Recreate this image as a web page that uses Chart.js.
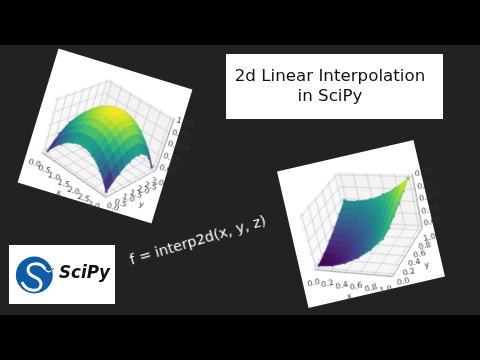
<!DOCTYPE html>
<html><head><meta charset="utf-8">
<script src="https://cdn.jsdelivr.net/npm/chart.js@4"></script>
<style>
html,body{margin:0;padding:0;background:#000;width:480px;height:360px;overflow:hidden;font-family:"DejaVu Sans",sans-serif}
#bg{position:absolute;left:0;top:45px;width:480px;height:270px;background:#222}
.plot{position:absolute;width:140px;height:140px;background:#fff;filter:blur(.35px)}
.plot canvas{display:block;position:absolute;left:-30px;top:-30px}
#title{position:absolute;left:226px;top:54px;width:217px;height:65px;background:#fff;color:#111;font-size:16.7px;line-height:20px;text-align:center;padding-top:11px;padding-right:9px;box-sizing:border-box;white-space:nowrap;filter:blur(.3px)}
#formula{position:absolute;left:130px;top:252px;color:#fff;font-size:14.4px;white-space:nowrap;transform:rotate(-16.5deg);transform-origin:0 50%}
#logo{position:absolute;left:9px;top:245px;width:106px;height:59px;background:#fff;filter:blur(.3px)}
#logoText{position:absolute;left:50px;top:17px;font:italic bold 16.8px "DejaVu Sans",sans-serif;color:#111}
</style></head><body>
<div id="bg"></div>
<div class="plot" style="left:35px;top:65.5px;transform:rotate(17deg)"><canvas id="left" width="200" height="200"></canvas></div>
<div class="plot" style="left:291px;top:154px;transform:rotate(-13deg)"><canvas id="right" width="200" height="200"></canvas></div>
<div id="title">2d Linear Interpolation<br>in SciPy</div>
<div id="formula">f = interp2d(x, y, z)</div>
<div id="logo">
<svg width="106" height="59" style="position:absolute;left:0;top:0"><circle cx="25.3" cy="30" r="18.5" fill="#0f5ca6"/><path d="M36 24 C32 17 19 17 19 25 C19 33 33 31 32 40 C31 48 17 47 13 37" fill="none" stroke="#fff" stroke-width="3"/><path d="M36 24 Q38.5 29 43 25" fill="none" stroke="#fff" stroke-width="1.6"/><path d="M41 26 Q43 25.5 45 23" fill="none" stroke="#0f5ca6" stroke-width="1"/></svg>
<div id="logoText">SciPy</div></div>
<script>
const leftXs=[0,.25,.5,.75,1,1.25,1.5,1.75,2,2.25,2.5,2.75,3];
const leftYs=[0,.25,.5,.75,1,1.25,1.5,1.75,2,2.25,2.5,2.75,3];
const leftZ=[
[0,.153,.278,.375,.444,.486,.5,.486,.444,.375,.278,.153,0],
[.153,.306,.431,.528,.597,.639,.653,.639,.597,.528,.431,.306,.153],
[.278,.431,.556,.653,.722,.764,.778,.764,.722,.653,.556,.431,.278],
[.375,.528,.653,.75,.819,.861,.875,.861,.819,.75,.653,.528,.375],
[.444,.597,.722,.819,.888,.93,.944,.93,.888,.819,.722,.597,.444],
[.486,.639,.764,.861,.93,.972,.986,.972,.93,.861,.764,.639,.486],
[.5,.653,.778,.875,.944,.986,1,.986,.944,.875,.778,.653,.5],
[.486,.639,.764,.861,.93,.972,.986,.972,.93,.861,.764,.639,.486],
[.444,.597,.722,.819,.888,.93,.944,.93,.888,.819,.722,.597,.444],
[.375,.528,.653,.75,.819,.861,.875,.861,.819,.75,.653,.528,.375],
[.278,.431,.556,.653,.722,.764,.778,.764,.722,.653,.556,.431,.278],
[.153,.306,.431,.528,.597,.639,.653,.639,.597,.528,.431,.306,.153],
[0,.153,.278,.375,.444,.486,.5,.486,.444,.375,.278,.153,0]];
const leftXTicks=["0.0","0.5","1.0","1.5","2.0","2.5","3.0"];
const leftYTicks=["0.0","0.5","1.0","1.5","2.0","2.5","3.0"];
const leftZTicks=["0.00","0.25","0.50","0.75","1.00"];
const rightXs=[0,.1,.2,.3,.4,.5,.6,.7,.8,.9,1];
const rightYs=[0,.1,.2,.3,.4,.5,.6,.7,.8,.9,1];
const rightZ=[
[0,.001,.005,.012,.021,.033,.047,.064,.083,.105,.130],
[.005,.006,.010,.016,.025,.037,.050,.067,.086,.107,.132],
[.012,.012,.016,.022,.031,.042,.055,.072,.090,.112,.136],
[.021,.021,.024,.030,.038,.050,.063,.079,.097,.118,.142],
[.030,.030,.033,.038,.046,.057,.070,.086,.103,.124,.148],
[.041,.040,.043,.049,.056,.066,.079,.094,.112,.133,.156],
[.051,.050,.052,.058,.065,.075,.087,.102,.120,.140,.163],
[.063,.061,.064,.069,.076,.086,.097,.112,.129,.149,.172],
[.075,.072,.075,.080,.086,.096,.108,.122,.139,.160,.181],
[.087,.084,.087,.090,.097,.107,.118,.132,.149,.168,.190],
[.100,.097,.099,.103,.109,.118,.130,.143,.159,.178,.200]];
const rightXTicks=["0.0","0.2","0.4","0.6","0.8","1.0"];
const rightYTicks=["0.0","0.2","0.4","0.6","0.8","1.0"];
const rightZTicks=["0.00","0.05","0.10","0.15","0.20"];
const viridis=[[68,1,84],[72,40,120],[62,74,137],[49,104,142],[38,130,142],[31,158,137],[53,183,121],[109,205,89],[180,222,44],[253,231,37]];

function cmap(t){t=Math.max(0,Math.min(1,t))*(viridis.length-1);const i=Math.min(viridis.length-2,Math.floor(t)),f=t-i;
 const c=viridis[i].map((v,k)=>Math.round(v+(viridis[i+1][k]-v)*f));return `rgb(${c[0]},${c[1]},${c[2]})`;}
const az=-60*Math.PI/180,el=30*Math.PI/180,D=10,SX=1.143,SZ=.857,PX=78,CW=200,OX=102.6,OY=98.5;
function makePlot(id,xs,ys,Z,xT,yT,zT,dotStep){
 const x0=xs[0],x1=xs[xs.length-1],y0=ys[0],y1=ys[ys.length-1],z1=Math.max(...Z.flat()),z0=0;
 const pad=.05,xa=x0-(x1-x0)*pad,xb=x1+(x1-x0)*pad,ya=y0-(y1-y0)*pad,yb=y1+(y1-y0)*pad,za=z0-(z1-z0)*pad,zb=z1+(z1-z0)*pad;
 const P=(x,y,z)=>{const X=((x-xa)/(xb-xa)-.5)*SX,Y=((y-ya)/(yb-ya)-.5)*SX,W=((z-za)/(zb-za)-.5)*SZ;
  const sx=-Math.sin(az)*X+Math.cos(az)*Y,
        sy=-Math.sin(el)*Math.cos(az)*X-Math.sin(el)*Math.sin(az)*Y+Math.cos(el)*W,
        d=Math.cos(el)*Math.cos(az)*X+Math.cos(el)*Math.sin(az)*Y+Math.sin(el)*W,f=D/(D-d);
  return {x:sx*f,y:sy*f,d};};
 const paint=[];
 const poly=(pts,fill,w)=>paint.push({data:[...pts,pts[0]],showLine:true,fill:'shape',backgroundColor:fill,borderColor:fill,borderWidth:w,pointRadius:0,tension:0});
 const line=(pts,col,w)=>paint.push({data:pts,showLine:true,fill:false,borderColor:col,borderWidth:w,pointRadius:0,tension:0});
 poly([P(xa,ya,za),P(xb,ya,za),P(xb,yb,za),P(xa,yb,za)],'#f6f6f6',.4);
 poly([P(xa,ya,za),P(xa,yb,za),P(xa,yb,zb),P(xa,ya,zb)],'#f9f9f9',.4);
 poly([P(xa,yb,za),P(xb,yb,za),P(xb,yb,zb),P(xa,yb,zb)],'#f3f3f3',.4);
 const G='#bdbdbd',nx=xT.map(Number),ny=yT.map(Number),nz=zT.map(Number);
 nx.forEach(v=>{line([P(v,ya,za),P(v,yb,za),P(v,yb,zb)],G,.6);});
 ny.forEach(v=>{line([P(xb,v,za),P(xa,v,za),P(xa,v,zb)],G,.6);});
 nz.forEach(v=>{line([P(xa,ya,v),P(xa,yb,v),P(xb,yb,v)],G,.6);});
 line([P(xa,ya,za),P(xb,ya,za)],'#555',.6);
 line([P(xb,ya,za),P(xb,yb,za)],'#555',.6);
 line([P(xb,yb,za),P(xb,yb,zb)],'#555',.6);
 const dots=[];xs.forEach((x,i)=>ys.forEach((y,j)=>{if((i%dotStep==0&&j%dotStep==0)&&(i==0||j==0||i==xs.length-1||j==ys.length-1))dots.push(P(x,y,Z[j][i]));}));
 paint.push({data:dots,showLine:false,pointRadius:1.6,pointBorderWidth:0,pointBackgroundColor:'#4a86b4'});
 const quads=[];
 for(let j=0;j<ys.length-1;j++)for(let i=0;i<xs.length-1;i++){
  const a=[P(xs[i],ys[j],Z[j][i]),P(xs[i+1],ys[j],Z[j][i+1]),P(xs[i+1],ys[j+1],Z[j+1][i+1]),P(xs[i],ys[j+1],Z[j+1][i])];
  const m=(Z[j][i]+Z[j][i+1]+Z[j+1][i+1]+Z[j+1][i])/4;
  quads.push({a,m,d:(a[0].d+a[1].d+a[2].d+a[3].d)/4});}
 quads.sort((p,q)=>p.d-q.d).forEach(q=>poly(q.a,cmap((q.m-z0)/(z1-z0)),1.2));
 const labels=[];
 xT.forEach(t=>labels.push({p:P(+t,ya-(yb-ya)*.2,za),t,dx:3,dy:3.5}));
 yT.forEach(t=>labels.push({p:P(xb+(xb-xa)*.17,+t,za),t,dx:-6,dy:5.5}));
 zT.forEach(t=>labels.push({p:P(xb+(xb-xa)*.1,yb+(yb-ya)*.1,+t),t,dx:0,dy:0}));
 labels.push({p:P((xa+xb)/2,ya-(yb-ya)*.42,za),t:'x',dx:11.5,dy:3.7},{p:P(xb+(xb-xa)*.38,(ya+yb)/2,za),t:'y',dx:-14.5,dy:9},{p:P(xb+(xb-xa)*.2,yb+(yb-ya)*.2,(za+zb)/2),t:'z',dx:0,dy:0});
 new Chart(document.getElementById(id),{type:'scatter',data:{datasets:paint.reverse()},options:{
  responsive:false,animation:false,devicePixelRatio:1,layout:{padding:0},
  plugins:{legend:{display:false},tooltip:{enabled:false}},events:[],
  scales:{x:{type:'linear',display:false,min:-OX/PX,max:(CW-OX)/PX},y:{type:'linear',display:false,min:-(CW-OY)/PX,max:OY/PX}}},
  plugins:[{id:'tl',afterDatasetsDraw(c){const g=c.ctx;g.save();g.font='7.8px "DejaVu Sans"';g.fillStyle='#333';g.textAlign='center';g.textBaseline='middle';
   labels.forEach(l=>g.fillText(l.t,c.scales.x.getPixelForValue(l.p.x)+l.dx,c.scales.y.getPixelForValue(l.p.y)+l.dy));g.restore();}}]});
}
makePlot('left',leftXs,leftYs,leftZ,leftXTicks,leftYTicks,leftZTicks,2);
makePlot('right',rightXs,rightYs,rightZ,rightXTicks,rightYTicks,rightZTicks,2);
</script></body></html>
